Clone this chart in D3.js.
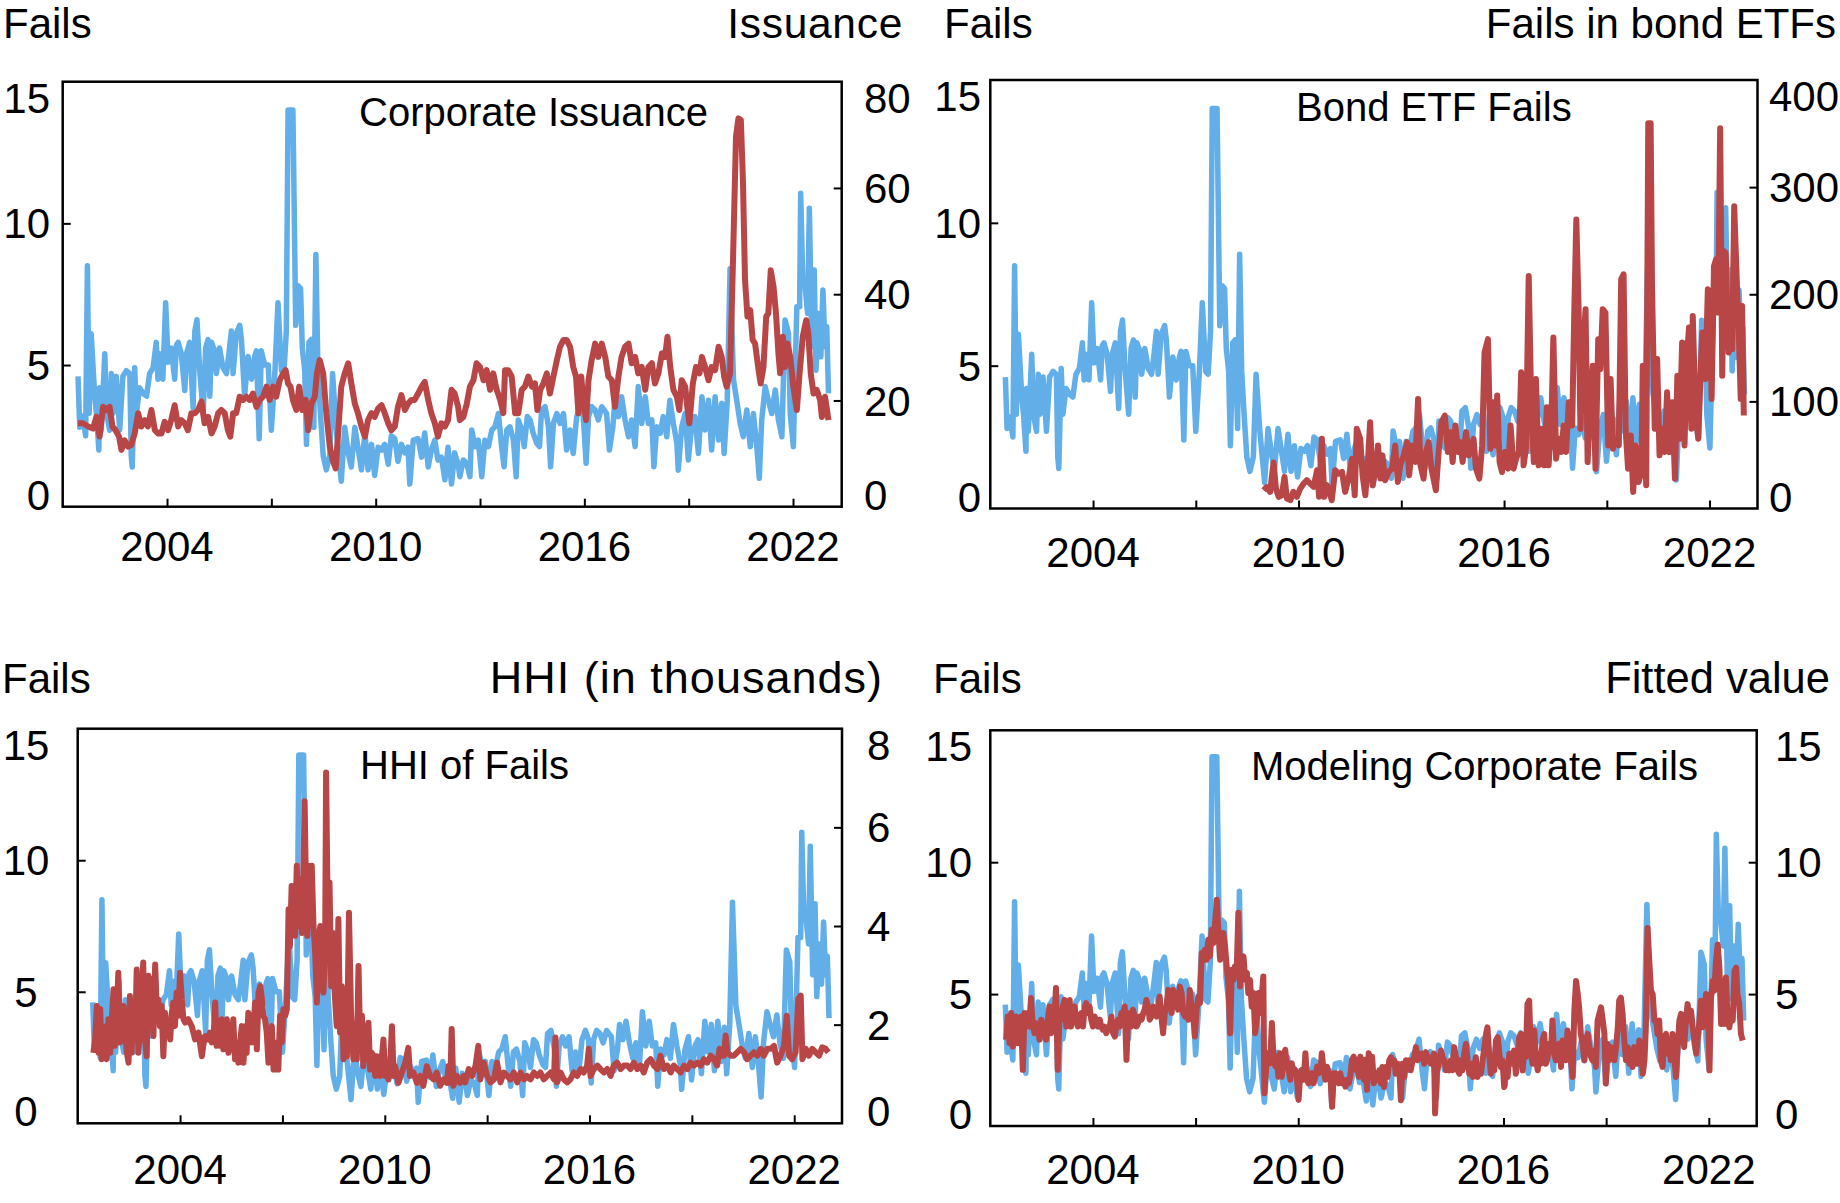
<!DOCTYPE html>
<html>
<head>
<meta charset="utf-8">
<script src="https://cdn.jsdelivr.net/npm/d3@7"></script>
<style>
  body { margin: 0; background: #fff; }
  svg text { font-family: "Liberation Sans", Arial, Helvetica, sans-serif; fill: #000; }
</style>
</head>
<body>
<svg id="chart" width="1840" height="1203"></svg>
<script>
// Weekly corporate fails (same series in every panel), [year, value]
const fails = [
[2001.44,4.6],[2001.49,2.8],[2001.58,3.2],[2001.66,2.5],[2001.71,8.5],[2001.76,3.3],[2001.82,6.1],[2001.92,3.9],[2001.97,3.3],[2002.04,2.0],[2002.06,4.2],[2002.11,2.7],[2002.21,5.4],[2002.26,3.3],[2002.35,2.7],[2002.40,4.7],[2002.45,3.3],[2002.54,4.6],[2002.64,2.7],[2002.73,4.6],[2002.83,4.8],[2002.93,4.7],[2002.97,1.8],[2003.00,1.4],[2003.07,4.9],[2003.12,3.3],[2003.21,4.2],[2003.31,4.0],[2003.41,3.9],[2003.50,4.7],[2003.60,4.9],[2003.69,5.8],[2003.74,4.5],[2003.79,5.4],[2003.88,4.5],[2003.96,7.2],
[2004.03,5.1],[2004.12,5.6],[2004.22,4.5],[2004.27,5.7],[2004.32,5.8],[2004.41,5.4],[2004.51,4.1],[2004.56,5.4],[2004.65,5.8],[2004.75,3.5],[2004.80,6.2],[2004.86,6.6],[2004.94,4.8],[2005.04,3.3],[2005.11,5.6],[2005.18,5.9],[2005.23,3.9],[2005.28,5.8],[2005.37,5.5],[2005.42,4.7],[2005.51,5.6],[2005.61,4.9],[2005.71,4.7],[2005.78,5.4],[2005.85,6.2],[2005.90,4.7],[2005.99,6.1],[2006.09,6.4],[2006.14,5.9],[2006.23,3.9],[2006.33,5.3],[2006.43,4.5],[2006.52,5.3],[2006.57,5.5],[2006.65,2.4],[2006.71,5.5],[2006.81,5.0],[2006.91,5.0],
[2007.00,2.7],[2007.10,4.7],[2007.19,7.2],[2007.29,4.8],[2007.36,4.7],[2007.43,6.2],[2007.48,14.0],[2007.62,14.0],[2007.70,6.4],[2007.77,7.8],[2007.84,7.7],[2007.89,5.6],[2007.96,4.8],[2008.01,2.2],[2008.08,5.8],[2008.15,5.9],[2008.22,2.8],[2008.28,8.9],[2008.34,4.8],[2008.41,3.3],[2008.49,1.8],[2008.58,1.3],[2008.68,1.8],[2008.76,4.7],[2008.87,2.7],[2009.01,0.9],[2009.11,2.8],[2009.21,1.9],[2009.30,1.4],[2009.40,2.8],[2009.49,2.1],[2009.59,1.3],[2009.69,2.6],[2009.78,1.3],[2009.88,2.2],[2009.97,1.1],
[2010.07,2.1],[2010.17,2.0],[2010.26,2.2],[2010.36,1.5],[2010.45,2.5],[2010.55,2.4],[2010.64,1.6],[2010.74,2.2],[2010.84,1.9],[2010.93,2.1],[2010.98,0.8],[2011.08,2.35],[2011.22,2.4],[2011.32,1.75],[2011.41,2.6],[2011.51,1.4],[2011.60,2.0],[2011.70,2.35],[2011.79,1.65],[2011.89,1.75],[2011.99,0.95],[2012.08,2.1],[2012.18,0.8],[2012.27,1.9],[2012.37,1.5],[2012.42,1.06],[2012.52,1.65],[2012.62,1.53],[2012.71,1.06],[2012.76,2.71],[2012.86,2.12],[2012.95,2.35],
[2013.05,1.06],[2013.14,2.35],[2013.24,2.12],[2013.34,2.71],[2013.43,2.82],[2013.53,3.29],[2013.62,2.12],[2013.69,1.41],[2013.77,2.71],[2013.86,2.82],[2013.96,2.35],[2014.04,1.06],[2014.10,3.06],[2014.20,2.71],[2014.27,2.12],[2014.36,3.18],[2014.44,3.06],[2014.53,2.59],[2014.63,2.24],[2014.71,2.12],[2014.77,3.41],[2014.87,3.53],[2014.97,2.82],[2015.03,1.41],[2015.11,2.94],[2015.21,3.29],[2015.30,2.94],[2015.40,3.29],[2015.49,2.0],[2015.59,2.71],[2015.68,1.88],[2015.78,3.18],[2015.88,3.53],[2015.97,3.18],
[2016.05,1.53],[2016.12,3.18],[2016.21,3.53],[2016.31,3.41],[2016.40,3.06],[2016.50,3.53],[2016.64,3.29],[2016.72,2.0],[2016.82,2.82],[2016.88,3.76],[2016.98,3.18],[2017.07,3.88],[2017.17,3.06],[2017.27,2.47],[2017.36,3.06],[2017.46,2.12],[2017.55,4.24],[2017.65,2.94],[2017.75,3.88],[2017.84,2.94],[2017.94,3.06],[2018.00,1.41],[2018.08,2.82],[2018.18,2.59],[2018.27,3.18],[2018.37,2.47],[2018.46,3.76],[2018.56,2.94],[2018.66,2.24],[2018.70,1.29],[2018.80,2.82],[2018.90,3.29],[2018.99,1.65],
[2019.09,2.94],[2019.18,3.18],[2019.28,1.88],[2019.38,3.88],[2019.47,2.71],[2019.57,3.76],[2019.66,2.0],[2019.76,3.88],[2019.86,2.35],[2019.95,3.65],[2020.02,1.88],[2020.11,3.76],[2020.19,8.4],[2020.29,4.47],[2020.38,3.76],[2020.48,2.94],[2020.57,2.47],[2020.67,3.41],[2020.77,2.12],[2020.86,3.29],[2020.96,2.12],[2021.03,1.0],[2021.10,3.06],[2021.20,4.24],[2021.29,3.76],[2021.39,3.29],[2021.49,4.12],[2021.58,3.06],[2021.68,2.47],[2021.77,6.59],[2021.87,6.12],[2021.92,3.29],
[2022.01,2.12],[2022.11,7.06],[2022.19,7.06],[2022.22,11.06],[2022.28,8.0],[2022.35,7.76],[2022.42,6.82],[2022.47,10.53],[2022.54,5.65],[2022.61,8.35],[2022.66,4.82],[2022.73,6.82],[2022.80,5.29],[2022.86,7.65],[2022.92,5.65],[2022.97,6.35],[2023.02,4.0]
];

// Corporate issuance, [year, value]
const issuance = [
[2001.44,15.7],[2001.58,15.7],[2001.73,15.1],[2001.87,14.7],[2001.97,16.9],[2002.06,13.2],[2002.16,18.8],[2002.26,18.2],[2002.35,18.8],[2002.43,15.1],[2002.52,14.4],[2002.62,13.2],[2002.69,10.7],[2002.78,12.5],[2002.88,11.3],[2002.97,11.6],[2003.07,13.8],[2003.17,17.6],[2003.26,15.1],[2003.36,16.3],[2003.45,15.1],[2003.55,18.2],[2003.65,14.4],[2003.74,13.8],[2003.84,13.8],[2003.93,16.0],
[2004.03,14.4],[2004.12,16.3],[2004.22,19.1],[2004.32,15.1],[2004.41,16.3],[2004.51,15.7],[2004.60,14.4],[2004.70,17.6],[2004.80,17.6],[2004.89,18.2],[2004.99,19.8],[2005.08,15.7],[2005.18,16.9],[2005.28,13.8],[2005.37,15.1],[2005.47,17.6],[2005.56,18.2],[2005.66,17.6],[2005.75,14.4],[2005.82,13.2],[2005.90,17.6],[2005.99,17.6],[2006.09,20.7],[2006.19,20.1],[2006.28,20.7],[2006.38,20.1],[2006.47,21.3],[2006.57,18.8],[2006.67,20.1],[2006.76,20.7],[2006.86,22.6],[2006.95,20.1],
[2007.05,22.6],[2007.14,20.7],[2007.24,23.8],[2007.34,25.1],[2007.41,25.7],[2007.48,23.2],[2007.55,22.6],[2007.62,20.1],[2007.72,18.2],[2007.80,22.6],[2007.89,18.2],[2007.99,20.1],[2008.06,14.4],[2008.15,19.4],[2008.25,20.7],[2008.31,25.1],[2008.39,27.6],[2008.49,25.1],[2008.58,17.6],[2008.68,11.3],[2008.76,8.8],[2008.85,7.2],[2008.92,13.8],[2009.01,22.6],[2009.11,25.1],[2009.21,27.0],[2009.30,23.2],[2009.40,19.4],[2009.49,17.6],[2009.59,15.1],[2009.69,13.2],[2009.78,16.3],[2009.88,17.6],[2009.97,16.9],
[2010.07,18.5],[2010.17,19.1],[2010.26,17.6],[2010.36,15.7],[2010.45,14.4],[2010.55,15.1],[2010.64,18.8],[2010.74,21.0],[2010.84,18.2],[2010.93,19.4],[2011.03,20.1],[2011.12,20.1],[2011.22,21.3],[2011.32,22.6],[2011.41,23.5],[2011.51,20.1],[2011.60,17.6],[2011.70,15.7],[2011.79,13.2],[2011.89,15.7],[2011.99,15.1],[2012.08,16.3],[2012.18,22.0],[2012.27,21.3],[2012.37,18.8],[2012.42,16.3],[2012.52,16.9],[2012.62,19.4],[2012.71,22.6],[2012.81,23.8],[2012.90,27.0],
[2013.00,26.3],[2013.10,23.8],[2013.19,25.7],[2013.29,22.0],[2013.38,25.1],[2013.48,22.0],[2013.58,20.1],[2013.67,17.6],[2013.72,25.7],[2013.81,25.7],[2013.91,24.5],[2014.01,17.6],[2014.10,17.6],[2014.20,22.0],[2014.29,22.6],[2014.39,24.5],[2014.49,22.6],[2014.58,23.2],[2014.65,18.2],[2014.73,22.0],[2014.82,23.2],[2014.92,25.1],[2015.01,21.3],[2015.11,24.5],[2015.21,27.6],[2015.30,30.1],[2015.40,31.4],[2015.49,31.4],[2015.59,30.1],[2015.68,26.3],[2015.76,24.5],[2015.83,17.6],[2015.91,24.5],[2015.97,20.1],
[2016.05,16.3],[2016.12,23.8],[2016.21,27.6],[2016.31,30.7],[2016.40,28.2],[2016.50,30.7],[2016.60,28.2],[2016.69,24.5],[2016.79,23.8],[2016.88,18.8],[2016.98,24.5],[2017.07,28.2],[2017.17,30.1],[2017.27,30.7],[2017.36,27.0],[2017.46,28.2],[2017.55,25.1],[2017.65,26.3],[2017.75,22.0],[2017.84,26.3],[2017.94,27.0],[2018.03,23.2],[2018.13,25.1],[2018.23,28.9],[2018.32,28.2],[2018.39,32.0],[2018.47,26.3],[2018.56,22.0],[2018.66,20.7],[2018.73,18.2],[2018.80,23.8],[2018.90,22.6],[2018.96,18.8],
[2019.02,15.7],[2019.12,23.2],[2019.21,26.3],[2019.31,25.1],[2019.38,28.2],[2019.47,26.3],[2019.57,23.8],[2019.66,26.3],[2019.76,25.7],[2019.86,30.1],[2019.95,28.2],[2020.02,24.5],[2020.09,22.6],[2020.19,25.1],[2020.27,45.2],[2020.36,69.6],[2020.43,73.1],[2020.50,72.8],[2020.56,61.5],[2020.62,42.7],[2020.69,35.8],[2020.77,37.0],[2020.84,31.4],[2020.91,30.7],
[2021.01,25.7],[2021.07,23.2],[2021.15,26.3],[2021.23,35.8],[2021.29,36.4],[2021.36,44.5],[2021.44,41.4],[2021.51,36.4],[2021.58,28.9],[2021.63,25.1],[2021.71,32.0],[2021.77,26.3],[2021.84,30.7],[2021.92,28.2],[2022.01,22.6],[2022.11,18.2],[2022.19,25.1],[2022.28,32.0],[2022.38,35.1],[2022.44,32.6],[2022.51,25.1],[2022.59,21.3],[2022.68,22.0],[2022.78,20.1],[2022.83,16.9],[2022.92,20.7],[2023.02,16.3]
];

// Fails in bond ETFs, [year, value]
const etfFails = [
[2008.98,17],[2009.07,20],[2009.17,15.5],[2009.27,43],[2009.34,18.6],[2009.42,10.9],[2009.51,12.4],[2009.59,29.5],[2009.66,9.3],[2009.76,7.8],[2009.85,15.5],[2009.95,10.9],[2010.05,18.6],[2010.15,23.3],[2010.24,26.4],[2010.34,23.3],[2010.44,20.2],[2010.54,35.7],[2010.60,10.9],[2010.68,65.1],[2010.75,10.9],[2010.83,21.7],[2010.90,15.5],[2010.97,7.8],
[2011.07,35.7],[2011.17,32.6],[2011.27,34.1],[2011.36,15.5],[2011.46,27.9],[2011.56,46.5],[2011.64,12.4],[2011.70,74.4],[2011.80,65.1],[2011.87,31],[2011.95,12.4],[2012.03,46.5],[2012.09,80.6],[2012.16,21.7],[2012.24,34.1],[2012.32,58.9],[2012.39,27.9],[2012.45,49.6],[2012.53,26.4],[2012.63,34.1],[2012.73,37.2],[2012.82,58.9],[2012.90,24.8],[2012.97,40.3],
[2013.07,49.6],[2013.17,62],[2013.23,31],[2013.31,58.9],[2013.41,43.4],[2013.49,102.3],[2013.56,40.3],[2013.65,27.9],[2013.72,52.7],[2013.80,62],[2013.88,37.2],[2013.94,27.9],[2014.01,17],[2014.09,52.7],[2014.17,80.6],[2014.27,86.8],[2014.36,52.7],[2014.43,71.3],[2014.50,43.4],[2014.58,77.5],[2014.66,52.7],[2014.72,62],[2014.79,43.4],[2014.89,71.3],[2014.97,49.6],
[2015.05,58.9],[2015.11,65.1],[2015.18,37.2],[2015.28,27.9],[2015.36,58.9],[2015.43,145.7],[2015.53,158.1],[2015.60,55.8],[2015.67,99.2],[2015.73,58.9],[2015.80,105.4],[2015.87,43.4],[2015.94,34.1],[2016.02,52.7],[2016.12,37.2],[2016.19,77.5],[2016.28,37.2],[2016.35,46.5],[2016.43,52.7],[2016.50,127.1],[2016.57,40.3],[2016.64,55.8],[2016.72,217],[2016.80,86.8],[2016.87,43.4],[2016.93,120.9],
[2017.01,40.3],[2017.09,74.4],[2017.17,40.3],[2017.25,94.6],[2017.30,40.3],[2017.38,77.5],[2017.44,159.7],[2017.52,46.5],[2017.60,65.1],[2017.67,52.7],[2017.74,77.5],[2017.81,52.7],[2017.89,99.2],[2017.99,77.5],[2018.05,182.9],[2018.11,269.7],[2018.18,182.9],[2018.23,74.4],[2018.30,142.6],[2018.38,186],[2018.44,43.4],[2018.52,105.4],[2018.59,133.3],[2018.67,37.2],[2018.75,158.1],[2018.81,130.2],[2018.88,186],[2018.96,182.9],
[2019.04,58.9],[2019.11,120.9],[2019.18,55.8],[2019.25,65.1],[2019.35,58.9],[2019.42,213.9],[2019.49,218.6],[2019.55,74.4],[2019.62,37.2],[2019.70,68.2],[2019.77,15.5],[2019.84,58.9],[2019.93,24.8],[2020.01,34.1],[2020.05,133.3],[2020.15,21.7],[2020.21,359.6],[2020.28,359.6],[2020.32,207.7],[2020.40,74.4],[2020.47,139.5],[2020.54,49.6],[2020.62,74.4],[2020.69,52.7],[2020.76,108.5],[2020.83,52.7],[2020.91,99.2],[2020.99,27.9],
[2021.06,124],[2021.12,65.1],[2021.20,155],[2021.27,58.9],[2021.33,136.4],[2021.40,169],[2021.47,74.4],[2021.51,179.8],[2021.59,89.9],[2021.67,65.1],[2021.74,127.1],[2021.79,164.3],[2021.88,120.9],[2021.95,204.6],[2022.00,201.5],[2022.06,102.3],[2022.13,226.3],[2022.19,232.5],[2022.25,182.9],[2022.31,355],[2022.37,124],[2022.42,240.3],[2022.47,238.7],[2022.52,182.9],[2022.56,145.7],[2022.61,176.7],[2022.66,148.8],[2022.72,282.1],[2022.80,207.7],[2022.86,158.1],[2022.91,102.3],[2022.95,189.1],[2023.00,86.8]
];

// HHI of fails (in thousands), [year, value]
const hhi = [
[2001.46,1.43],[2001.51,1.70],[2001.56,2.38],[2001.61,1.43],[2001.66,2.31],[2001.70,1.30],[2001.75,1.97],[2001.80,1.70],[2001.85,1.30],[2001.90,2.11],[2001.95,1.43],[2002.00,2.11],[2002.05,2.72],[2002.09,1.57],[2002.14,2.11],[2002.19,3.05],[2002.24,1.64],[2002.29,2.11],[2002.34,2.38],[2002.39,1.84],[2002.44,1.43],[2002.49,1.23],[2002.53,2.58],[2002.58,1.43],[2002.63,2.45],[2002.68,1.70],[2002.73,3.12],[2002.78,1.43],[2002.83,1.91],[2002.88,2.38],[2002.92,3.26],[2002.97,1.77],
[2003.02,1.36],[2003.07,2.99],[2003.12,2.24],[2003.17,2.92],[2003.22,1.77],[2003.27,3.22],[2003.32,2.24],[2003.36,2.51],[2003.41,1.97],[2003.46,2.38],[2003.51,1.36],[2003.56,2.24],[2003.61,1.91],[2003.66,1.97],[2003.71,1.70],[2003.76,2.24],[2003.80,2.45],[2003.85,1.97],[2003.90,2.65],[2003.95,2.18],[2004.00,3.05],[2004.05,2.51],[2004.10,2.11],[2004.15,2.04],[2004.24,2.11],[2004.34,1.97],[2004.39,1.84],[2004.44,1.70],[2004.54,1.84],[2004.64,1.36],[2004.68,1.57],[2004.73,1.77],[2004.83,1.70],[2004.88,1.84],[2004.93,1.64],[2004.98,1.70],
[2005.03,2.45],[2005.07,1.57],[2005.12,1.97],[2005.17,1.57],[2005.22,2.11],[2005.27,1.50],[2005.32,1.97],[2005.37,2.11],[2005.42,1.43],[2005.47,1.84],[2005.51,1.64],[2005.56,2.11],[2005.61,1.30],[2005.66,1.64],[2005.71,1.23],[2005.76,1.64],[2005.81,1.97],[2005.86,1.23],[2005.91,1.97],[2005.95,1.43],[2006.00,2.24],[2006.05,1.97],[2006.10,1.64],[2006.15,1.97],[2006.20,2.45],[2006.25,1.50],[2006.30,2.65],[2006.35,2.78],[2006.39,2.57],[2006.44,2.18],[2006.49,2.11],[2006.54,1.84],[2006.59,1.23],[2006.64,1.70],[2006.69,1.97],[2006.74,1.09],[2006.79,1.09],[2006.83,1.64],[2006.88,1.09],[2006.93,2.18],[2006.98,1.64],
[2007.03,2.31],[2007.08,2.18],[2007.13,2.31],[2007.18,4.34],[2007.22,3.59],[2007.27,4.81],[2007.32,4.27],[2007.37,3.80],[2007.42,5.22],[2007.47,4.00],[2007.52,4.95],[2007.57,3.86],[2007.62,5.22],[2007.65,6.53],[2007.68,5.22],[2007.73,3.80],[2007.76,5.22],[2007.81,4.27],[2007.86,5.22],[2007.91,4.00],[2007.96,3.46],[2008.01,2.45],[2008.06,3.73],[2008.11,4.00],[2008.15,3.19],[2008.20,2.65],[2008.25,3.32],[2008.28,7.11],[2008.33,4.00],[2008.38,4.88],[2008.43,2.78],[2008.48,3.86],[2008.52,2.78],[2008.59,1.97],[2008.64,4.14],[2008.69,1.84],[2008.74,2.78],[2008.79,1.30],[2008.84,2.18],[2008.89,1.36],[2008.95,4.27],
[2009.01,2.24],[2009.08,1.30],[2009.13,1.84],[2009.18,1.30],[2009.23,3.19],[2009.28,1.57],[2009.33,2.18],[2009.37,1.16],[2009.42,1.97],[2009.47,1.30],[2009.52,2.04],[2009.57,1.09],[2009.62,1.43],[2009.67,1.23],[2009.72,0.96],[2009.77,1.36],[2009.81,1.09],[2009.86,0.96],[2009.91,1.30],[2009.96,1.70],[2010.01,0.96],[2010.06,1.23],[2010.11,0.89],[2010.16,1.23],[2010.21,1.97],[2010.26,0.96],[2010.30,1.16],[2010.40,0.82],[2010.50,1.03],[2010.60,1.23],[2010.69,1.53],[2010.74,0.96],[2010.84,1.03],[2010.94,0.82],
[2011.04,0.96],[2011.13,0.76],[2011.23,1.16],[2011.33,0.96],[2011.43,0.89],[2011.52,1.03],[2011.62,0.76],[2011.72,0.89],[2011.82,0.82],[2011.87,1.16],[2011.92,0.82],[2011.96,1.91],[2012.01,0.76],[2012.11,0.96],[2012.21,0.82],[2012.31,0.96],[2012.36,0.83],[2012.46,1.10],[2012.56,0.96],[2012.66,1.17],[2012.74,1.57],[2012.80,0.89],[2012.90,1.23],
[2013.00,0.96],[2013.10,0.83],[2013.20,0.89],[2013.29,1.23],[2013.39,0.83],[2013.49,1.03],[2013.59,0.96],[2013.68,0.89],[2013.78,1.03],[2013.88,0.83],[2013.98,1.03],[2014.08,0.89],[2014.17,0.96],[2014.27,0.89],[2014.37,1.03],[2014.47,0.96],[2014.56,1.03],[2014.66,0.89],[2014.76,0.96],[2014.86,1.03],[2014.96,0.89],[2015.00,1.74],[2015.05,0.83],[2015.15,1.03],[2015.25,0.89],[2015.35,0.83],[2015.44,0.89],[2015.54,1.03],[2015.64,0.96],[2015.74,1.10],[2015.83,1.03],[2015.93,1.17],[2015.98,1.51],
[2016.03,0.96],[2016.13,1.10],[2016.23,1.17],[2016.32,1.10],[2016.42,1.03],[2016.52,1.10],[2016.62,0.96],[2016.71,1.17],[2016.81,1.23],[2016.91,1.10],[2017.01,1.17],[2017.11,1.17],[2017.20,1.10],[2017.30,1.23],[2017.40,1.10],[2017.50,1.17],[2017.59,1.03],[2017.69,1.23],[2017.79,1.30],[2017.89,1.17],[2017.99,1.10],[2018.08,1.37],[2018.18,1.10],[2018.28,1.17],[2018.38,1.03],[2018.47,1.17],[2018.57,1.10],[2018.67,1.03],[2018.77,1.17],[2018.87,1.10],[2018.96,1.23],
[2019.06,1.17],[2019.16,1.23],[2019.26,1.17],[2019.35,1.30],[2019.45,1.23],[2019.55,1.37],[2019.65,1.30],[2019.74,1.17],[2019.81,1.51],[2019.87,1.37],[2019.94,1.37],[2019.99,1.78],[2020.04,1.44],[2020.14,1.37],[2020.23,1.37],[2020.33,1.44],[2020.43,1.51],[2020.53,1.44],[2020.62,1.30],[2020.72,1.37],[2020.82,1.44],[2020.92,1.37],
[2021.02,1.51],[2021.11,1.37],[2021.21,1.51],[2021.31,1.51],[2021.41,1.57],[2021.50,1.23],[2021.60,1.37],[2021.70,1.57],[2021.78,2.18],[2021.85,1.37],[2021.94,1.30],[2022.04,1.44],[2022.12,2.52],[2022.19,2.59],[2022.24,1.30],[2022.34,1.51],[2022.43,1.37],[2022.53,1.51],[2022.63,1.44],[2022.73,1.37],[2022.82,1.54],[2022.92,1.51],[2023.00,1.44]
];

// Fitted value from the fails model, [year, value]
const fitted = [
[2001.46,3.27],[2001.51,4.15],[2001.56,3.14],[2001.61,4.28],[2001.66,3.01],[2001.70,3.77],[2001.75,4.15],[2001.80,3.14],[2001.85,4.03],[2001.90,4.15],[2001.95,2.13],[2002.00,4.28],[2002.05,3.77],[2002.09,4.28],[2002.14,3.77],[2002.19,4.85],[2002.24,3.77],[2002.29,3.52],[2002.34,3.90],[2002.39,3.65],[2002.44,3.27],[2002.49,4.03],[2002.53,3.77],[2002.58,3.77],[2002.63,3.27],[2002.68,4.03],[2002.73,4.53],[2002.78,3.52],[2002.83,3.77],[2002.88,4.28],[2002.92,5.23],[2002.97,2.13],
[2003.02,4.03],[2003.07,4.03],[2003.12,4.53],[2003.17,4.78],[2003.22,3.77],[2003.27,4.28],[2003.32,4.78],[2003.36,3.77],[2003.41,4.28],[2003.46,4.53],[2003.51,4.03],[2003.56,3.77],[2003.61,4.15],[2003.66,4.28],[2003.71,3.77],[2003.76,4.53],[2003.80,4.66],[2003.85,4.28],[2003.90,4.53],[2003.95,4.03],[2004.00,3.77],[2004.05,4.15],[2004.10,3.90],[2004.15,3.77],[2004.20,4.03],[2004.24,3.77],[2004.29,3.65],[2004.34,3.77],[2004.39,3.52],[2004.44,3.65],[2004.49,3.77],[2004.54,4.15],[2004.59,3.52],[2004.64,3.39],[2004.68,3.77],[2004.73,4.03],[2004.78,3.77],[2004.83,4.28],[2004.88,4.28],[2004.93,4.53],[2004.98,2.51],
[2005.03,4.28],[2005.07,4.03],[2005.12,3.77],[2005.17,4.41],[2005.22,4.15],[2005.27,3.77],[2005.32,3.90],[2005.37,4.15],[2005.42,4.03],[2005.47,4.28],[2005.51,4.41],[2005.56,4.78],[2005.61,4.53],[2005.66,4.03],[2005.71,4.15],[2005.76,4.53],[2005.81,4.28],[2005.86,4.15],[2005.91,4.53],[2005.95,4.91],[2006.00,4.15],[2006.05,3.52],[2006.10,4.28],[2006.15,4.53],[2006.20,5.16],[2006.25,5.04],[2006.30,4.28],[2006.35,5.16],[2006.39,4.66],[2006.44,4.78],[2006.49,4.41],[2006.54,5.29],[2006.59,5.04],[2006.64,4.28],[2006.69,4.15],[2006.74,4.41],[2006.79,4.03],[2006.83,5.16],[2006.88,4.53],[2006.93,4.15],[2006.98,3.39],
[2007.03,4.41],[2007.08,4.91],[2007.13,4.66],[2007.18,6.56],[2007.22,6.30],[2007.27,6.68],[2007.32,6.30],[2007.37,7.06],[2007.42,6.43],[2007.47,7.44],[2007.52,6.94],[2007.57,7.70],[2007.62,8.58],[2007.67,7.32],[2007.72,6.30],[2007.76,6.81],[2007.81,7.32],[2007.86,6.81],[2007.91,6.05],[2007.96,5.29],[2008.01,3.52],[2008.06,5.92],[2008.11,5.54],[2008.15,6.05],[2008.20,5.80],[2008.25,8.08],[2008.30,5.29],[2008.35,6.30],[2008.40,6.43],[2008.45,5.54],[2008.50,5.80],[2008.54,5.04],[2008.59,5.54],[2008.64,4.53],[2008.69,5.04],[2008.74,3.52],[2008.79,4.03],[2008.84,5.04],[2008.89,4.28],[2008.94,5.04],[2008.98,5.67],
[2009.01,1.24],[2009.08,2.51],[2009.13,2.76],[2009.18,2.38],[2009.23,3.90],[2009.28,2.51],[2009.33,2.25],[2009.37,2.63],[2009.42,1.87],[2009.47,2.76],[2009.52,1.87],[2009.57,2.51],[2009.62,2.89],[2009.67,2.25],[2009.72,2.13],[2009.77,1.75],[2009.81,2.38],[2009.86,2.00],[2009.91,2.13],[2009.96,1.87],[2010.01,0.99],[2010.06,2.00],[2010.11,2.13],[2010.16,1.75],[2010.21,2.76],[2010.26,1.75],[2010.30,1.62],[2010.35,1.87],[2010.40,2.00],[2010.45,1.62],[2010.50,1.87],[2010.55,2.25],[2010.60,2.00],[2010.65,2.13],[2010.69,2.76],[2010.74,2.13],[2010.79,1.75],[2010.84,2.25],[2010.89,2.00],[2010.94,1.87],[2010.99,0.73],
[2011.04,2.00],[2011.09,2.00],[2011.13,1.75],[2011.18,1.62],[2011.23,2.00],[2011.28,1.62],[2011.33,1.75],[2011.38,1.49],[2011.43,1.75],[2011.48,1.62],[2011.52,1.87],[2011.57,2.51],[2011.62,2.63],[2011.67,2.13],[2011.72,2.51],[2011.77,1.87],[2011.82,2.63],[2011.87,2.00],[2011.92,1.75],[2011.96,2.51],[2012.01,1.37],[2012.06,2.76],[2012.11,2.13],[2012.16,2.63],[2012.21,1.62],[2012.26,2.00],[2012.31,1.75],[2012.37,2.11],[2012.42,1.61],[2012.46,2.24],[2012.51,1.48],[2012.56,2.24],[2012.61,1.86],[2012.66,2.49],[2012.71,2.61],[2012.76,2.36],[2012.81,2.49],[2012.85,1.98],[2012.90,2.36],[2012.95,2.24],
[2013.00,0.98],[2013.05,2.36],[2013.10,1.86],[2013.15,2.49],[2013.19,2.24],[2013.24,2.49],[2013.29,2.11],[2013.34,2.49],[2013.39,2.61],[2013.44,2.99],[2013.49,2.49],[2013.54,2.74],[2013.58,2.61],[2013.63,2.74],[2013.68,2.36],[2013.73,2.80],[2013.78,2.61],[2013.83,2.49],[2013.88,2.36],[2013.93,2.61],[2013.97,2.74],[2014.00,0.48],[2014.05,1.98],[2014.12,2.49],[2014.17,2.86],[2014.22,2.61],[2014.27,2.49],[2014.32,2.11],[2014.36,2.36],[2014.41,2.11],[2014.46,2.49],[2014.51,2.11],[2014.56,2.99],[2014.61,2.61],[2014.66,2.11],[2014.71,1.98],[2014.75,2.49],[2014.80,2.11],[2014.85,2.74],[2014.90,3.12],[2014.95,2.49],
[2015.00,1.98],[2015.05,2.36],[2015.10,1.86],[2015.14,2.11],[2015.19,2.61],[2015.24,1.86],[2015.29,2.24],[2015.34,1.98],[2015.39,2.49],[2015.44,2.99],[2015.49,3.49],[2015.53,3.74],[2015.58,2.74],[2015.63,1.98],[2015.68,2.49],[2015.73,2.11],[2015.78,3.24],[2015.83,3.37],[2015.88,2.74],[2015.92,2.24],[2015.97,2.49],[2016.02,1.48],[2016.07,2.36],[2016.12,1.86],[2016.17,2.74],[2016.22,2.74],[2016.27,2.36],[2016.31,2.86],[2016.36,1.98],[2016.41,2.61],[2016.46,3.37],[2016.51,3.49],[2016.56,2.11],[2016.61,2.99],[2016.65,2.61],[2016.70,4.62],[2016.75,4.75],[2016.80,2.74],[2016.85,2.36],[2016.90,3.62],[2016.95,2.49],
[2017.00,2.11],[2017.04,2.74],[2017.09,2.36],[2017.14,3.24],[2017.19,3.49],[2017.24,2.36],[2017.29,2.61],[2017.34,3.12],[2017.39,2.86],[2017.43,4.00],[2017.48,2.74],[2017.53,2.49],[2017.58,2.99],[2017.63,3.12],[2017.68,2.24],[2017.73,3.24],[2017.78,2.86],[2017.82,2.49],[2017.87,3.62],[2017.92,2.99],[2017.97,2.49],[2018.02,1.86],[2018.07,4.37],[2018.12,5.50],[2018.17,5.00],[2018.21,4.50],[2018.26,3.49],[2018.31,3.12],[2018.36,2.49],[2018.41,3.24],[2018.46,3.49],[2018.51,2.99],[2018.56,2.61],[2018.60,2.49],[2018.65,2.86],[2018.70,2.24],[2018.75,4.00],[2018.80,4.25],[2018.85,4.50],[2018.90,4.00],[2018.95,3.49],[2018.99,1.61],
[2019.04,3.12],[2019.09,2.49],[2019.14,2.99],[2019.19,2.74],[2019.24,2.49],[2019.29,2.99],[2019.34,3.74],[2019.38,4.75],[2019.43,4.87],[2019.48,4.25],[2019.53,3.24],[2019.58,2.49],[2019.63,2.99],[2019.68,2.36],[2019.73,2.74],[2019.77,2.24],[2019.82,2.99],[2019.87,2.86],[2019.92,2.36],[2019.97,3.24],[2020.02,2.86],[2020.07,1.98],[2020.12,2.49],[2020.16,3.74],[2020.21,7.51],[2020.26,6.26],[2020.31,5.13],[2020.36,5.00],[2020.41,4.00],[2020.46,4.00],[2020.50,3.49],[2020.55,4.00],[2020.60,2.49],[2020.65,2.24],[2020.70,3.37],[2020.75,3.49],[2020.80,2.74],[2020.85,3.12],[2020.89,2.49],[2020.94,3.49],[2020.99,2.61],
[2021.04,1.86],[2021.09,2.99],[2021.14,4.00],[2021.19,4.25],[2021.24,3.62],[2021.28,2.99],[2021.33,4.00],[2021.38,4.62],[2021.43,4.00],[2021.48,4.37],[2021.53,3.74],[2021.58,3.24],[2021.63,2.74],[2021.67,3.24],[2021.72,3.87],[2021.77,4.75],[2021.82,3.74],[2021.87,4.37],[2021.92,5.00],[2021.97,4.75],[2022.02,2.11],[2022.06,4.75],[2022.11,5.50],[2022.16,5.13],[2022.21,6.26],[2022.26,6.88],[2022.31,6.00],[2022.36,3.87],[2022.41,5.50],[2022.45,3.87],[2022.50,5.63],[2022.55,4.00],[2022.60,3.74],[2022.65,4.25],[2022.70,4.00],[2022.75,5.88],[2022.80,6.00],[2022.84,5.00],[2022.89,4.62],[2022.94,3.49],[2022.99,3.24]
];

// Axis ticks and labels
const yearDomain = [2001, 2023.4];
const yearLabels = [2004, 2010, 2016, 2022];
const yearTicks = [2004, 2007, 2010, 2013, 2016, 2019, 2022];
const failTicks = [0, 5, 10, 15];
const issuanceTicks = [0, 20, 40, 60, 80];
const etfTicks = [0, 100, 200, 300, 400];
const hhiTicks = [0, 2, 4, 6, 8];
const fittedTicks = [0, 5, 10, 15];

const blue = '#62aee8';
const red = '#b94646';

// Panel layout (pixel boxes) — kept apart from the data
const panels = [
  { title: 'Corporate Issuance', rightTitle: 'Issuance', series: issuance, rTicks: issuanceTicks,
    box: { x0: 62.7, x1: 841.7, y0: 81.7, y1: 506.7 },
    lt: [3, 38], rt: [903, 38], tt: [359, 126], rtSize: 42.5, rtSpacing: 0.7,
    lx: 50, lAnchor: 'end', rx: 864, yearY: 561 },
  { title: 'Bond ETF Fails', rightTitle: 'Fails in bond ETFs', series: etfFails, rTicks: etfTicks,
    box: { x0: 990.3, x1: 1757.5, y0: 80, y1: 508.5 },
    lt: [944, 38], rt: [1836, 38], tt: [1296, 121], rtSize: 42, rtSpacing: 0,
    lx: 981, lAnchor: 'end', rx: 1769, yearY: 567 },
  { title: 'HHI of Fails', rightTitle: 'HHI (in thousands)', series: hhi, rTicks: hhiTicks,
    box: { x0: 77.7, x1: 842, y0: 728.7, y1: 1123.3 },
    lt: [2, 693], rt: [883, 693], tt: [360, 779], rtSize: 45, rtSpacing: 1,
    lx: 26, lAnchor: 'middle', rx: 867, yearY: 1184 },
  { title: 'Modeling Corporate Fails', rightTitle: 'Fitted value', series: fitted, rTicks: fittedTicks,
    box: { x0: 990.3, x1: 1756.7, y0: 730.3, y1: 1126 },
    lt: [933, 693], rt: [1830, 693], tt: [1251, 780], rtSize: 43.5, rtSpacing: 0,
    lx: 972, lAnchor: 'end', rx: 1775, yearY: 1184 }
];

const svg = d3.select('#chart');

panels.forEach(p => {
  const b = p.box;
  const g = svg.append('g');

  const x = d3.scaleLinear().domain(yearDomain).range([b.x0, b.x1]);
  const yL = d3.scaleLinear().domain([0, 15]).range([b.y1, b.y0]);
  const rMax = d3.max(p.rTicks);
  const yR = d3.scaleLinear().domain([0, rMax]).range([b.y1, b.y0]);

  // Inward tick marks via d3 axes
  g.append('g')
    .attr('transform', `translate(${b.x0},0)`)
    .call(d3.axisRight(yL).tickValues(failTicks.filter(v => v > 0 && v < 15)).tickSize(8).tickFormat(''))
    .call(a => a.select('.domain').remove());
  g.append('g')
    .attr('transform', `translate(${b.x1},0)`)
    .call(d3.axisLeft(yR).tickValues(p.rTicks.filter(v => v > 0 && v < rMax)).tickSize(8).tickFormat(''))
    .call(a => a.select('.domain').remove());
  g.append('g')
    .attr('transform', `translate(0,${b.y1})`)
    .call(d3.axisTop(x).tickValues(yearTicks).tickSize(8).tickFormat(''))
    .call(a => a.select('.domain').remove());
  g.selectAll('.tick line').attr('stroke', '#000').attr('stroke-width', 2);

  // Series lines: fails underneath, comparison series on top
  const lineL = d3.line().x(d => x(d[0])).y(d => yL(d[1]));
  const lineR = d3.line().x(d => x(d[0])).y(d => yR(d[1]));
  g.append('path').datum(fails)
    .attr('d', lineL).attr('fill', 'none').attr('stroke', blue)
    .attr('stroke-width', 5.5).attr('stroke-linejoin', 'round');
  g.append('path').datum(p.series)
    .attr('d', lineR).attr('fill', 'none').attr('stroke', red)
    .attr('stroke-width', 6).attr('stroke-linejoin', 'round');

  // Frame
  g.append('rect')
    .attr('x', b.x0).attr('y', b.y0)
    .attr('width', b.x1 - b.x0).attr('height', b.y1 - b.y0)
    .attr('fill', 'none').attr('stroke', '#000').attr('stroke-width', 2.5);

  // Tick labels (end labels pulled inside the frame)
  const nudge = (v, max) => v === max ? 16 : v === 0 ? -12 : 0;
  g.selectAll('.lLab').data(failTicks).enter().append('text')
    .attr('x', p.lx).attr('y', d => yL(d) + nudge(d, 15))
    .attr('dy', '0.36em').attr('text-anchor', p.lAnchor)
    .style('font-size', '42px').text(d => d);
  g.selectAll('.rLab').data(p.rTicks).enter().append('text')
    .attr('x', p.rx).attr('y', d => yR(d) + nudge(d, rMax))
    .attr('dy', '0.36em').attr('text-anchor', 'start')
    .style('font-size', '42px').text(d => d);
  g.selectAll('.xLab').data(yearLabels).enter().append('text')
    .attr('x', d => x(d)).attr('y', p.yearY)
    .attr('text-anchor', 'middle')
    .style('font-size', '42px').text(d => d);

  // Titles
  g.append('text').attr('x', p.lt[0]).attr('y', p.lt[1])
    .style('font-size', '42px').text('Fails');
  g.append('text').attr('x', p.rt[0]).attr('y', p.rt[1])
    .attr('text-anchor', 'end')
    .style('font-size', p.rtSize + 'px')
    .style('letter-spacing', p.rtSpacing + 'px')
    .text(p.rightTitle);
  g.append('text').attr('x', p.tt[0]).attr('y', p.tt[1])
    .style('font-size', '40px').text(p.title);
});
</script>
</body>
</html>
